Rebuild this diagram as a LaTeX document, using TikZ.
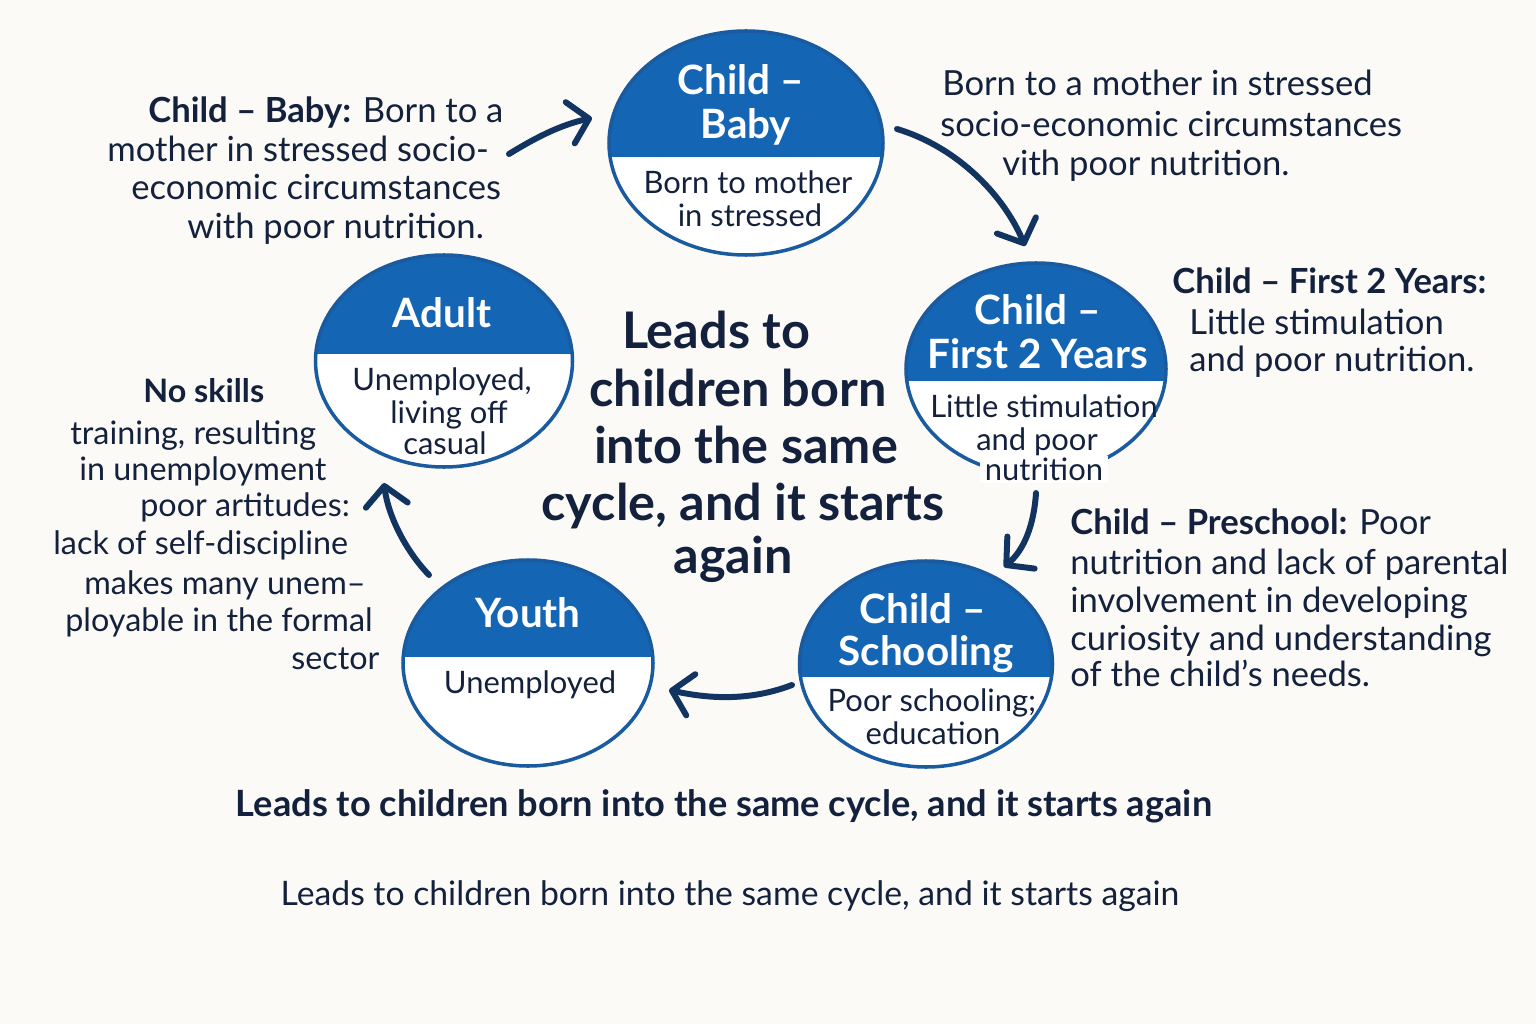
\documentclass[tikz,border=0pt]{standalone}
\usepackage{fontspec}
\setmainfont{Lato}
\usetikzlibrary{arrows.meta,shapes.geometric}
\definecolor{paper}{HTML}{FBFAF7}
\definecolor{stageblue}{HTML}{1565B5}
\definecolor{stageedge}{HTML}{1A5A9E}
\definecolor{ink}{HTML}{14213D}
\definecolor{arrowink}{HTML}{123461}
\newcommand\stageshape[5]{%
  \fill[white] (#1,#2) ellipse[x radius=#3, y radius=#4];
  \begin{scope}
    \clip (#1,#2) ellipse[x radius=#3, y radius=#4];
    \fill[stageblue] (#1-#3-5,#2-#4-5) rectangle (#1+#3+5,#5);
  \end{scope}
  \draw[stageedge, line width=2pt] (#1,#2) ellipse[x radius=#3, y radius=#4];
}
\tikzset{
  body/.style={text=ink, inner sep=0pt, yshift=-4.6pt, font=\fontsize{19.7}{23}\selectfont},
  smallbody/.style={text=ink, inner sep=0pt, yshift=-4.4pt, font=\fontsize{18.4}{22}\selectfont},
  bigtext/.style={text=ink, inner sep=0pt, yshift=-6.7pt, font=\fontsize{28.7}{32}\selectfont\bfseries},
  title/.style={text=white, inner sep=0pt, anchor=mid, yshift=-5.6pt, font=\fontsize{23}{25}\selectfont\bfseries},
  sub/.style={text=ink, inner sep=0pt, anchor=mid, yshift=-4.1pt, font=\fontsize{17.6}{19}\selectfont},
  stagenode/.style={ellipse, inner sep=0pt},
  arr/.style={draw=arrowink, line width=3.4pt, line cap=round,
    -{Straight Barb[round, length=11pt, width=24pt]}},
}
\begin{document}
\begin{tikzpicture}[x=0.02cm, y=-0.02cm]
\fill[paper] (0,0) rectangle (1536,1024);
\useasboundingbox (0,0) rectangle (1536,1024);

% ---- stage ellipses
\node[stagenode, minimum width=5.48cm, minimum height=4.48cm] (baby) at (746,143) {};
\stageshape{746}{143}{137}{112}{157}
\node[stagenode, minimum width=5.2cm, minimum height=4.24cm] (first) at (1036,369) {};
\stageshape{1036}{369}{130}{106}{381}
\node[stagenode, minimum width=5.14cm, minimum height=4.24cm] (adult) at (444,361) {};
\stageshape{444}{361}{128.5}{106}{354}
\node[stagenode, minimum width=5.06cm, minimum height=4.12cm] (school) at (926,664) {};
\stageshape{926}{664}{126.5}{103}{677}
\node[stagenode, minimum width=5.0cm, minimum height=4.12cm] (youth) at (528,663) {};
\stageshape{528}{663}{125}{103}{657}

% ---- texts inside ellipses
\node[title] (babyT1) at (741,80) {Child --};
\node[title] (babyT2) at (746,124) {Baby};
\node[sub] (babyS1) at (748,182) {Born to mother};
\node[sub] (babyS2) at (750,215) {in stressed};

\node[title] (firstT1) at (1038,310) {Child --};
\node[title] (firstT2) at (1038,354) {First 2 Years};
\node[sub] (firstS1) at (1044,406) {Little stimulation};
\node[sub] (firstS2) at (1037,439) {and poor};
\node[sub, fill=white, inner xsep=3pt, inner ysep=1pt] (firstS3) at (1044,469) {nutrition};

\node[title] (adultT1) at (442,313) {Adult};
\node[sub] (adultS1) at (442,379) {Unemployed,};
\node[sub] (adultS2) at (449,412) {living off};
\node[sub] (adultS3) at (445,443) {casual};

\node[title] (schoolT1) at (923,609) {Child --};
\node[title] (schoolT2) at (926,651) {Schooling};
\node[sub] (schoolS1) at (932,700) {Poor schooling;};
\node[sub] (schoolS2) at (933,733) {education};

\node[title] (youthT1) at (528,613) {Youth};
\node[sub] (youthS1) at (530,682) {Unemployed};

% ---- annotation: top left
\node[body, anchor=mid west] (tl1) at (148,110) {\textbf{Child -- Baby:} Born to a};
\node[body, anchor=mid west] (tl2) at (107,149) {mother in stressed socio-};
\node[body, anchor=mid west] (tl3) at (131,187) {economic circumstances};
\node[body, anchor=mid west] (tl4) at (187,226) {with poor nutrition.};

% ---- annotation: top right
\node[body, anchor=mid west] (tr1) at (942,83) {Born to a mother in stressed};
\node[body, anchor=mid west] (tr2) at (940,124) {socio-economic circumstances};
\node[body, anchor=mid west] (tr3) at (1002,163) {vith poor nutrition.};

% ---- annotation: right
\node[body, anchor=mid west] (r1) at (1172,281) {\textbf{Child -- First 2 Years:}};
\node[body, anchor=mid west] (r2) at (1189,322) {Little stimulation};
\node[body, anchor=mid west] (r3) at (1189,359) {and poor nutrition.};

% ---- annotation: preschool
\node[body, anchor=mid west] (p1) at (1070,522) {\textbf{Child -- Preschool:} Poor};
\node[body, anchor=mid west] (p2) at (1070,562) {nutrition and lack of parental};
\node[body, anchor=mid west] (p3) at (1070,600) {involvement in developing};
\node[body, anchor=mid west] (p4) at (1070,638) {curiosity and understanding};
\node[body, anchor=mid west] (p5) at (1070,674) {of the child’s needs.};

% ---- annotation: left
\node[smallbody, anchor=mid west] (l1) at (143,390) {\textbf{No skills}};
\node[smallbody, anchor=mid west] (l2) at (70,432) {training, resulting};
\node[smallbody, anchor=mid west] (l3) at (79,468) {in unemployment};
\node[smallbody, anchor=mid west] (l4) at (140,504) {poor artitudes:};
\node[smallbody, anchor=mid west] (l5) at (53,542) {lack of self-discipline};
\node[smallbody, anchor=mid west] (l6) at (84,582) {makes many unem--};
\node[smallbody, anchor=mid west] (l7) at (65,619) {ployable in the formal};
\node[smallbody, anchor=mid west] (l8) at (291,657) {sector};

% ---- centre text
\node[bigtext, anchor=mid] (c1) at (716,332) {Leads to};
\node[bigtext, anchor=mid] (c2) at (738,390) {children born};
\node[bigtext, anchor=mid] (c3) at (746,447) {into the same};
\node[bigtext, anchor=mid] (c4) at (743,504) {cycle, and it starts};
\node[bigtext, anchor=mid] (c5) at (733,557) {again};

% ---- bottom lines
\node[text=ink, inner sep=0pt, anchor=mid, yshift=-4.7pt, font=\fontsize{20.6}{23}\selectfont\bfseries] (b1) at (724,804) {Leads to children born into the same cycle, and it starts again};
\node[text=ink, inner sep=0pt, anchor=mid, yshift=-4.4pt, font=\fontsize{19.2}{22}\selectfont] (b2) at (730,893) {Leads to children born into the same cycle, and it starts again};

% ---- connectors
\coordinate (a1s) at (509,154);
\coordinate (a1e) at (592,118);
\coordinate (a2s) at (897,129);
\coordinate (a2e) at (1025,246);
\coordinate (a3s) at (1036,493);
\coordinate (a3e) at (1004,567);
\coordinate (a4s) at (792,685);
\coordinate (a4e) at (669,690);
\coordinate (a5s) at (429,575);
\coordinate (a5e) at (384,483);
\draw[arr] (a1s) .. controls (535,138) and (560,125) .. (a1e);
\draw[arr] (a2s) .. controls (960,148) and (1005,198) .. (a2e);
\draw[arr] (a3s) .. controls (1034,525) and (1024,550) .. (a3e);
\draw[arr] (a4s) .. controls (750,701) and (710,699) .. (a4e);
\draw[arr] (a5s) .. controls (405,550) and (388,515) .. (a5e);
\end{tikzpicture}
\end{document}
